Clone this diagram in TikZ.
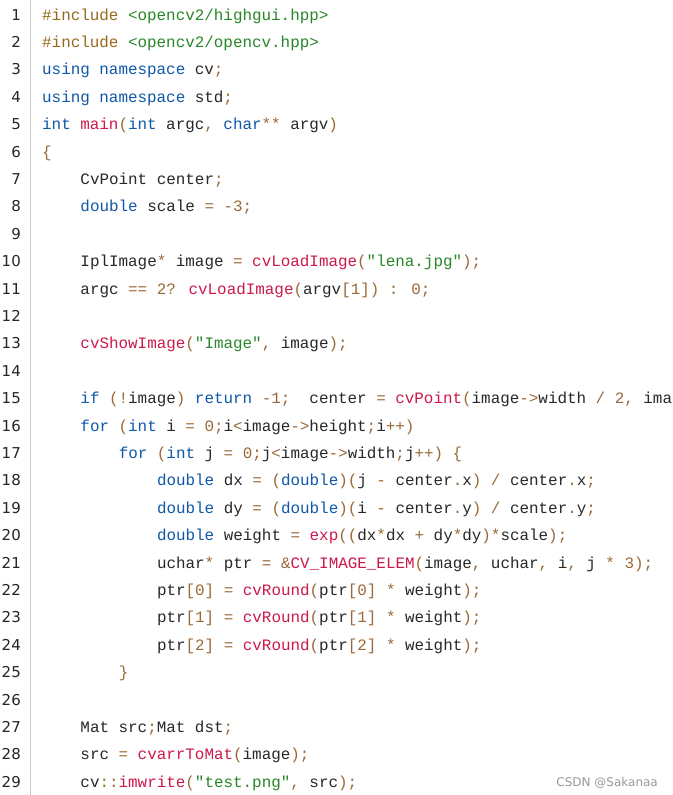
\documentclass[tikz,border=0pt]{standalone}
\usepackage{fontspec}
\newfontfamily\codef{Liberation Mono}
\newfontfamily\numf{DejaVu Sans}
\definecolor{kw}{RGB}{16,88,168}
\definecolor{pp}{RGB}{150,105,30}
\definecolor{st}{RGB}{40,135,40}
\definecolor{fn}{RGB}{205,25,75}
\definecolor{op}{RGB}{155,105,55}
\definecolor{tx}{RGB}{40,40,40}
\newcommand\K[1]{\textcolor{kw}{#1}}
\newcommand\F[1]{\textcolor{fn}{#1}}
\newcommand\Ss[1]{\textcolor{st}{#1}}
\newcommand\Pp[1]{\textcolor{pp}{#1}}
\newcommand\Oo[1]{\textcolor{op}{#1}}
\newcommand\CL[3]{\node[codeline] (c#1) at ({42+9.57*#2},{20+27.4*(#1-1)}) {#3};}
\tikzset{codeline/.style={anchor=base west,inner sep=0pt,font=\codef\fontsize{15.9}{18}\selectfont,text=tx},
lnum/.style={anchor=base east,inner sep=0pt,font=\numf\fontsize{15}{18}\selectfont,text=black!85}}
\begin{document}
\begin{tikzpicture}[x=1pt,y=-1pt]
\fill[white] (0,0) rectangle (672,795);
\useasboundingbox (0,0) rectangle (672,795);
\draw[gray!40,line width=1pt] (30,0) -- (30,795);
\foreach \n in {1,...,29}{\node[lnum] (n\n) at (21,{20+27.4*(\n-1)}) {\n};}
\begin{scope}
\clip (31,0) rectangle (672,795);
\CL{1}{0}{\Pp{\#include} \Ss{<opencv2/highgui.hpp>}}
\CL{2}{0}{\Pp{\#include} \Ss{<opencv2/opencv.hpp>}}
\CL{3}{0}{\K{using} \K{namespace} cv\Oo{;}}
\CL{4}{0}{\K{using} \K{namespace} std\Oo{;}}
\CL{5}{0}{\K{int} \F{main}\Oo{(}\K{int} argc\Oo{,} \K{char}\Oo{**} argv\Oo{)}}
\CL{6}{0}{\Oo{\{}}
\CL{7}{4}{CvPoint center\Oo{;}}
\CL{8}{4}{\K{double} scale \Oo{=} \Oo{-3;}}
\CL{10}{4}{IplImage\Oo{*} image \Oo{=} \F{cvLoadImage}\Oo{(}\Ss{"lena.jpg"}\Oo{);}}
\CL{11}{4}{argc \Oo{==} \Oo{2?} \F{cvLoadImage}\Oo{(}argv\Oo{[1])} \Oo{:} \Oo{0;}}
\CL{13}{4}{\F{cvShowImage}\Oo{(}\Ss{"Image"}\Oo{,} image\Oo{);}}
\CL{15}{4}{\K{if} \Oo{(!}image\Oo{)} \K{return} \Oo{-1;}\ \ center \Oo{=} \F{cvPoint}\Oo{(}image\Oo{->}width \Oo{/} \Oo{2,} image\Oo{->}height \Oo{/} \Oo{2);}}
\CL{16}{4}{\K{for} \Oo{(}\K{int} i \Oo{=} \Oo{0;}i\Oo{<}image\Oo{->}height\Oo{;}i\Oo{++)}}
\CL{17}{8}{\K{for} \Oo{(}\K{int} j \Oo{=} \Oo{0;}j\Oo{<}image\Oo{->}width\Oo{;}j\Oo{++)} \Oo{\{}}
\CL{18}{12}{\K{double} dx \Oo{=} \Oo{(}\K{double}\Oo{)(}j \Oo{-} center\Oo{.}x\Oo{)} \Oo{/} center\Oo{.}x\Oo{;}}
\CL{19}{12}{\K{double} dy \Oo{=} \Oo{(}\K{double}\Oo{)(}i \Oo{-} center\Oo{.}y\Oo{)} \Oo{/} center\Oo{.}y\Oo{;}}
\CL{20}{12}{\K{double} weight \Oo{=} \F{exp}\Oo{((}dx\Oo{*}dx \Oo{+} dy\Oo{*}dy\Oo{)*}scale\Oo{);}}
\CL{21}{12}{uchar\Oo{*} ptr \Oo{=} \Oo{\&}\F{CV\_IMAGE\_ELEM}\Oo{(}image\Oo{,} uchar\Oo{,} i\Oo{,} j \Oo{*} \Oo{3);}}
\CL{22}{12}{ptr\Oo{[0]} \Oo{=} \F{cvRound}\Oo{(}ptr\Oo{[0]} \Oo{*} weight\Oo{);}}
\CL{23}{12}{ptr\Oo{[1]} \Oo{=} \F{cvRound}\Oo{(}ptr\Oo{[1]} \Oo{*} weight\Oo{);}}
\CL{24}{12}{ptr\Oo{[2]} \Oo{=} \F{cvRound}\Oo{(}ptr\Oo{[2]} \Oo{*} weight\Oo{);}}
\CL{25}{8}{\Oo{\}}}
\CL{27}{4}{Mat src\Oo{;}Mat dst\Oo{;}}
\CL{28}{4}{src \Oo{=} \F{cvarrToMat}\Oo{(}image\Oo{);}}
\CL{29}{4}{cv\Oo{::}\F{imwrite}\Oo{(}\Ss{"test.png"}\Oo{,} src\Oo{);}}
\end{scope}
\node[anchor=base east,inner sep=0pt,font=\numf\fontsize{12}{14}\selectfont,text=gray!80] (wm) at (658,786) {CSDN @Sakanaa};
\end{tikzpicture}
\end{document}
